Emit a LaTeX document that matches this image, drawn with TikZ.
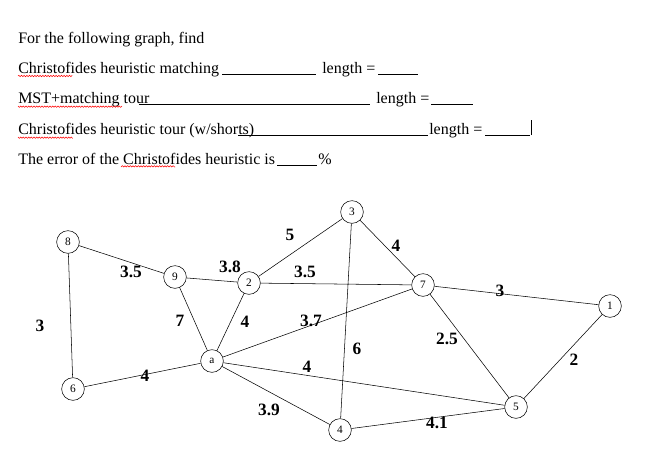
\documentclass[tikz,border=0pt]{standalone}
\usepackage{fontspec}
\setmainfont{Liberation Serif}
\usetikzlibrary{decorations.pathmorphing}
\begin{document}
\begin{tikzpicture}[x=0.75pt,y=-0.75pt,
  vx/.style={circle,draw,fill=white,minimum size=17pt,inner sep=0pt,font=\fontsize{8.5}{9}\selectfont},
  el/.style={font=\bfseries\fontsize{13}{14}\selectfont,inner sep=0pt},
  tx/.style={anchor=base west,inner sep=0pt,font=\fontsize{12}{14}\selectfont},
  wav/.style={red,line width=0.4pt,decorate,decoration={snake,amplitude=0.5pt,segment length=2pt}}]
\useasboundingbox (0,0) rectangle (656,464);
% text
\node[tx] (t1) at (18,43) {For the following graph, find};
\node[tx] (t2) at (18,73) {Christofides heuristic matching};
\node[tx] (t2b) at (322,73) {length =};
\node[tx] (t3) at (18,103) {MST+matching tour};
\node[tx] (t3b) at (376,103) {length =};
\node[tx] (t4) at (18,134) {Christofides heuristic tour (w/shorts)};
\node[tx] (t4b) at (429,134) {length =};
\node[tx] (t5) at (18,164) {The error of the Christofides heuristic is};
\node[tx] (t5b) at (318,164) {\%};
\draw[line width=0.6pt] (222,74)--(316,74) (378,74)--(418,74)
  (139,104)--(370,104) (431,104)--(473,104)
  (238,135)--(428,135) (485,135)--(530,135) (531,135)--(531,120)
  (277,165)--(317,165);
\draw[wav] (18,76)--(72,76) (18,106)--(122,106) (18,137)--(72,137) (121,167)--(175,167);
% graph
\node[vx] (n8) at (68,242) {8};
\node[vx] (n9) at (175,277) {9};
\node[vx] (n2) at (249,283) {2};
\node[vx] (n3) at (352,212) {3};
\node[vx] (n7) at (423,285) {7};
\node[vx] (n1) at (610,306) {1};
\node[vx] (na) at (212,361) {a};
\node[vx] (n6) at (73,389) {6};
\node[vx] (n4) at (340,430) {4};
\node[vx] (n5) at (516,407) {5};
\draw (n8)--(n9) (n8)--(n6) (n9)--(n2) (n9)--(na) (n2)--(na) (n2)--(n3) (n2)--(n7)
 (n3)--(n7) (n3)--(n4) (n7)--(n1) (n7)--(n5) (n1)--(n5) (na)--(n7) (na)--(n5)
 (na)--(n4) (n6)--(na) (n4)--(n5);
\node[el] (l1) at (131,272) {3.5};
\node[el] (l2) at (230,267) {3.8};
\node[el] (l3) at (290,235) {5};
\node[el] (l4) at (396,246) {4};
\node[el] (l5) at (305,272) {3.5};
\node[el] (l6) at (500,291) {3};
\node[el] (l7) at (40,326) {3};
\node[el] (l8) at (180,321) {7};
\node[el] (l9) at (245,322) {4};
\node[el] (l10) at (311,321) {3.7};
\node[el] (l11) at (447,339) {2.5};
\node[el] (l12) at (357,349) {6};
\node[el] (l13) at (145,376) {4};
\node[el] (l14) at (307,367) {4};
\node[el] (l15) at (574,360) {2};
\node[el] (l16) at (269,410) {3.9};
\node[el] (l17) at (437,423) {4.1};
\end{tikzpicture}
\end{document}
